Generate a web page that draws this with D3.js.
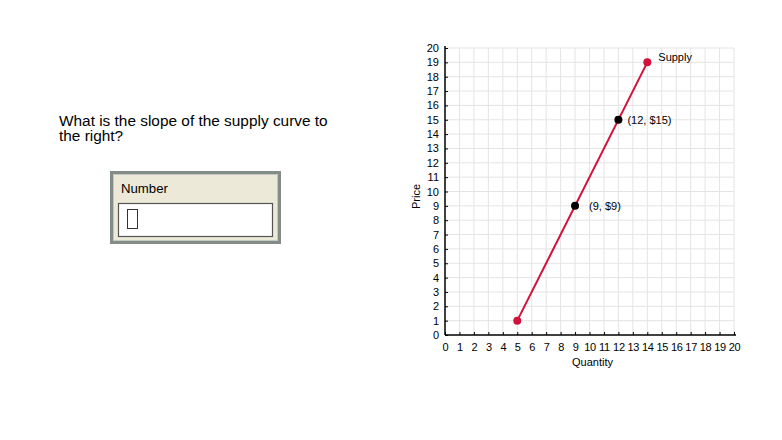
<!DOCTYPE html>
<html><head><meta charset="utf-8">
<script src="https://cdn.jsdelivr.net/npm/d3@7"></script>
<style>
body{margin:0;background:#fff;}
svg{display:block;font-family:"Liberation Sans",Arial,sans-serif;}
</style></head>
<body>
<svg id="c" width="782" height="440"></svg>
<script>
const xTicks = d3.range(0, 21);
const yTicks = d3.range(0, 21);
const supplyQ = [5, 9, 12, 14];
const supplyP = [1, 9, 15, 19];
const endIdx = [0, 3];
const labeledIdx = [1, 2];
const pointLabels = ["(9, $9)", "(12, $15)"];
const curveName = "Supply";

const svg = d3.select("#c");
const x = d3.scaleLinear().domain([0, 20]).range([445, 734]);
const y = d3.scaleLinear().domain([0, 20]).range([335, 48]);

// question
const q = svg.append("text").attr("font-size", 15.4).attr("fill", "#000");
q.append("tspan").attr("x", 59).attr("y", 126).text("What is the slope of the supply curve to");
q.append("tspan").attr("x", 59).attr("y", 141).text("the right?");

// answer box
svg.append("rect").attr("x", 111.5).attr("y", 172.5).attr("width", 168).attr("height", 70)
  .attr("fill", "#ece9d8").attr("stroke", "#838c87").attr("stroke-width", 3);
svg.append("rect").attr("x", 113.5).attr("y", 174.5).attr("width", 164).attr("height", 66)
  .attr("fill", "none").attr("stroke", "#c4c8c2").attr("stroke-width", 1);
svg.append("text").attr("x", 121).attr("y", 193).attr("font-size", 13.2).text("Number");
svg.append("rect").attr("x", 118.5).attr("y", 203.5).attr("width", 154).attr("height", 33)
  .attr("fill", "#fff").attr("stroke", "#555").attr("stroke-width", 1.2);
svg.append("rect").attr("x", 127.5).attr("y", 209.5).attr("width", 10).attr("height", 19)
  .attr("fill", "#fff").attr("stroke", "#333").attr("stroke-width", 1);

// grid
const g = svg.append("g");
g.selectAll(".vx").data(xTicks.slice(1)).join("line")
  .attr("x1", d => x(d)).attr("x2", d => x(d)).attr("y1", y(0)).attr("y2", y(20))
  .attr("stroke", "#e4e4e4").attr("stroke-width", 1);
g.selectAll(".hy").data(yTicks.slice(1)).join("line")
  .attr("x1", x(0)).attr("x2", x(20)).attr("y1", d => y(d)).attr("y2", d => y(d))
  .attr("stroke", "#e4e4e4").attr("stroke-width", 1);

// axes
const xAxis = d3.axisBottom(x).tickValues(xTicks).tickSize(-3).tickPadding(8);
const yAxis = d3.axisLeft(y).tickValues(yTicks).tickSize(-3).tickPadding(6);
const gx = svg.append("g").attr("transform", `translate(0,${y(0)})`).call(xAxis);
const gy = svg.append("g").attr("transform", `translate(${x(0)},0)`).call(yAxis);
[gx, gy].forEach(a => {
  a.select(".domain").remove();
  a.selectAll("text").attr("font-size", 11).attr("fill", "#000").attr("font-family", "Liberation Sans, Arial, sans-serif");
  a.selectAll(".tick line").attr("stroke", "#000");
});
gx.selectAll("text").attr("letter-spacing", -0.3);
svg.append("line").attr("x1", x(0)).attr("x2", x(0)).attr("y1", y(20) - 2).attr("y2", y(0)).attr("stroke", "#000").attr("stroke-width", 1.5);
svg.append("line").attr("x1", x(0)).attr("x2", x(20) + 2).attr("y1", y(0)).attr("y2", y(0)).attr("stroke", "#000").attr("stroke-width", 1.5);

svg.append("text").attr("x", (x(0) + x(20)) / 2 + 3).attr("y", 366).attr("text-anchor", "middle")
  .attr("font-size", 11).text("Quantity");
svg.append("text").attr("transform", `translate(420,${(y(0) + y(20)) / 2 + 5}) rotate(-90)`)
  .attr("text-anchor", "middle").attr("font-size", 11).text("Price");

// supply line
const pts = supplyQ.map((q, i) => [q, supplyP[i]]);
svg.append("path").datum([pts[0], pts[pts.length - 1]])
  .attr("d", d3.line().x(d => x(d[0])).y(d => y(d[1])))
  .attr("stroke", "#d2103c").attr("stroke-width", 2).attr("fill", "none");
svg.selectAll(".endp").data(endIdx.map(i => pts[i])).join("circle")
  .attr("cx", d => x(d[0])).attr("cy", d => y(d[1])).attr("r", 4).attr("fill", "#d2103c");
svg.selectAll(".lp").data(labeledIdx.map(i => pts[i])).join("circle")
  .attr("cx", d => x(d[0])).attr("cy", d => y(d[1])).attr("r", 4).attr("fill", "#000");
const labelDx = [14, 9];
svg.selectAll(".lt").data(labeledIdx).join("text")
  .attr("x", (i, k) => x(pts[i][0]) + labelDx[k]).attr("y", i => y(pts[i][1]) + 4)
  .attr("font-size", 11).text((i, k) => pointLabels[k]);
const last = pts[pts.length - 1];
svg.append("text").attr("x", x(last[0]) + 11).attr("y", y(last[1]) - 1)
  .attr("font-size", 11).text(curveName);
</script>
</body></html>
